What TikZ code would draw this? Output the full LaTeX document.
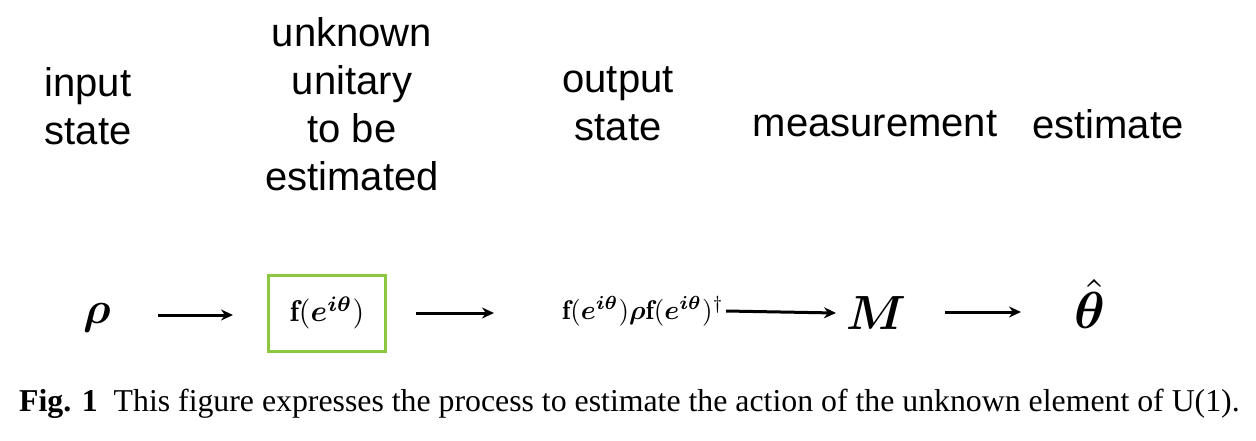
\documentclass[tikz,border=0pt]{standalone}
\usetikzlibrary{arrows.meta}
\usepackage{amsmath,bm,graphicx}
\usepackage{fontspec}
\newfontfamily\lab{Liberation Sans}
\newfontfamily\capf{Liberation Serif}
\definecolor{boxgreen}{RGB}{141,198,63}
\begin{document}
\begin{tikzpicture}[x=1pt,y=-1pt,
  lbl/.style={font=\lab\fontsize{40}{48}\selectfont,align=center,inner sep=0},
  mth/.style={inner sep=0},
  arr/.style={-{Stealth[length=12pt,width=11pt]},line width=3pt}]
\useasboundingbox (0,0) rectangle (1256,440);
\node[lbl] (l1) at (88,106) {input\\state};
\node[lbl] (l2) at (352,104) {unknown\\unitary\\to be\\estimated};
\node[lbl] (l3) at (618,104) {output\\state};
\node[lbl] (l4) at (875,124) {measurement};
\node[lbl] (l5) at (1108,124) {estimate};
\node[mth] (rho) at (97,318) {\scalebox{4.5}{$\bm{\rho}$}};
\node[mth,draw=boxgreen,line width=3pt,minimum width=117pt,minimum height=76pt] (U) at (327,313) {\scalebox{3}{$\mathbf{f}(\bm{e^{i\theta}})$}};
\node[mth] (out) at (643,311) {\scalebox{2.7}{$\mathbf{f}(\bm{e^{i\theta}})\bm{\rho}\mathbf{f}(\bm{e^{i\theta}})^{\dagger}$}};
\node[mth] (M) at (876,313) {\scalebox{4.8}{$\bm{M}$}};
\node[mth] (th) at (1090,304) {\scalebox{5.2}{$\bm{\hat{\theta}}$}};
\coordinate (a1s) at (158,315); \coordinate (a1e) at (233,315);
\coordinate (a2s) at (416,313); \coordinate (a2e) at (494,313);
\coordinate (a3e) at (836,313);
\coordinate (a4s) at (945,312); \coordinate (a4e) at (1021,312);
\draw[arr] (a1s) -- (a1e);
\draw[arr] (a2s) -- (a2e);
\draw[arr] ([xshift=2pt]out.east) -- (a3e);
\draw[arr] (a4s) -- (a4e);
\node[inner sep=0,anchor=west,font=\capf\fontsize{31.8}{36}\selectfont] (cap) at (19,404) {\textbf{Fig. 1}\ \ This figure expresses the process to estimate the action of the unknown element of U(1).};
\end{tikzpicture}
\end{document}
